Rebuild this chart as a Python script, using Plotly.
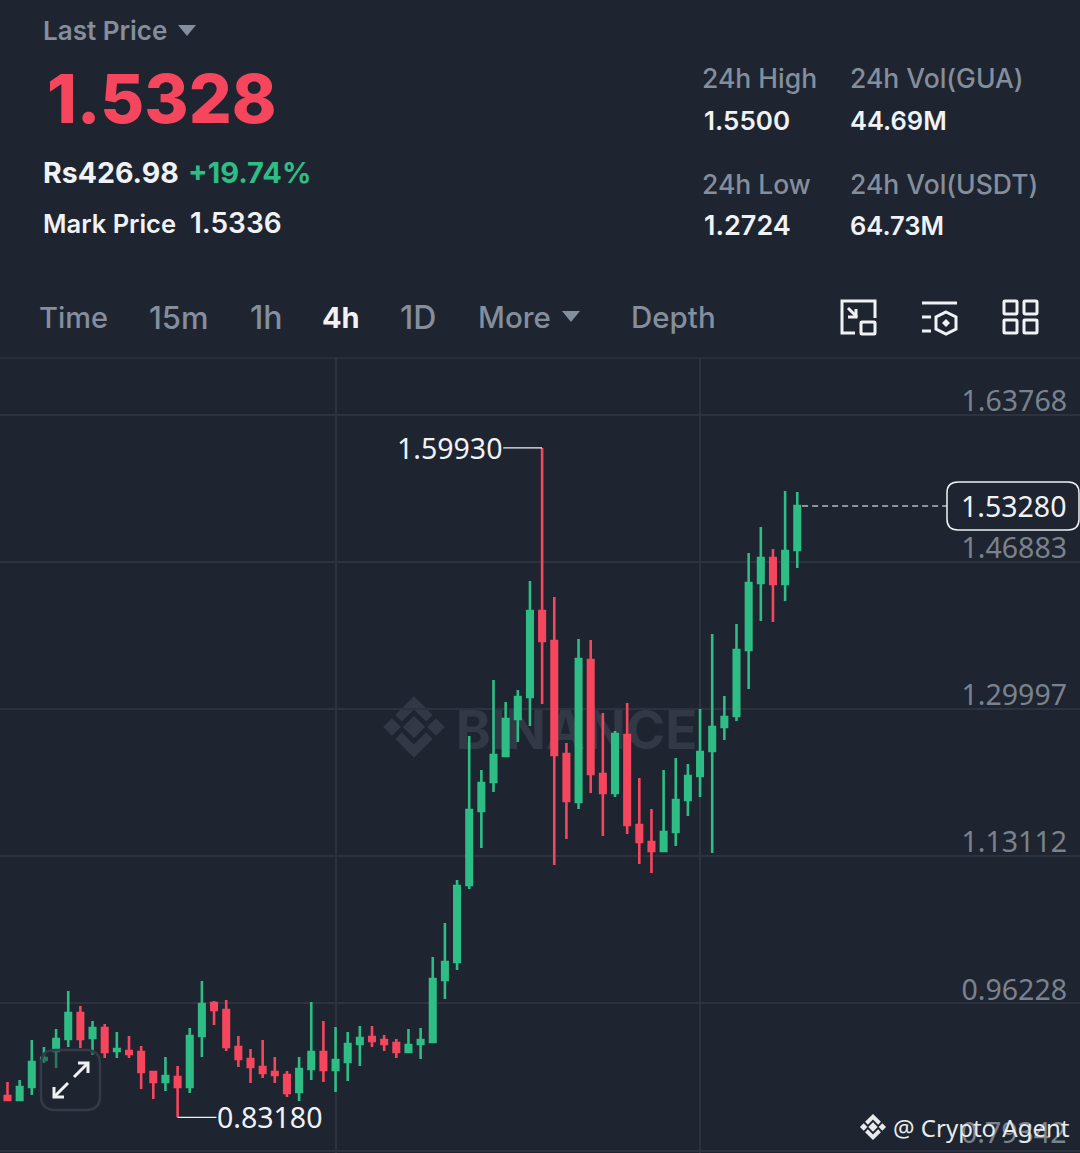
import plotly.graph_objects as go

W = 1080
H = 1153
BG = "#1e2530"
GREEN = "#2ebd85"
RED = "#f6465d"
GRAY = "#848e9c"
AXIS_GRAY = "#7a828e"
GRID = "#2d333e"
WHITE = "#f0f2f5"

# 4h candles
opens = [0.8562, 0.8516, 0.8665, 0.8975, 0.9078, 0.9216, 0.9514, 0.9227, 0.9342, 0.9078, 0.9078,
         0.9067, 0.8837, 0.8723, 0.8780, 0.8665, 0.9250, 0.9628, 0.9548, 0.9124, 0.8986, 0.8895,
         0.8837, 0.8803, 0.8608, 0.8872, 0.9067, 0.8860, 0.8952, 0.9158, 0.9239, 0.9204, 0.9170,
         0.9067, 0.9158, 0.9181, 0.9892, 1.0099, 1.0982, 1.1830, 1.2163, 1.2461, 1.2885, 1.3137,
         1.4124, 1.3780, 1.2484, 1.1933, 1.3562, 1.2254, 1.2037, 1.2701, 1.1670, 1.1475, 1.1371,
         1.1589, 1.1956, 1.2232, 1.2518, 1.2793, 1.2919, 1.3676, 1.4445, 1.4731, 1.4433, 1.4823]
highs = [0.8723, 0.8746, 0.9204, 0.9124, 0.9330, 0.9766, 0.9594, 0.9422, 0.9388, 0.9296, 0.9250,
         0.9135, 0.8849, 0.9009, 0.8906, 0.9342, 0.9881, 0.9651, 0.9663, 0.9250, 0.9101, 0.9204,
         0.9009, 0.8849, 0.9009, 0.9640, 0.9422, 0.9353, 0.9296, 0.9365, 0.9365, 0.9262, 0.9216,
         0.9330, 0.9342, 1.0156, 1.0546, 1.1039, 1.2690, 1.2300, 1.3332, 1.3080, 1.3218, 1.4468,
         1.5993, 1.4284, 1.2610, 1.3803, 1.3791, 1.2954, 1.2747, 1.3069, 1.2209, 1.1853, 1.2300,
         1.2438, 1.2369, 1.2999, 1.3860, 1.3149, 1.3974, 1.4789, 1.5087, 1.4835, 1.5500, 1.5488]
lows = [0.8505, 0.8505, 0.8574, 0.8941, 0.8883, 0.9124, 0.9113, 0.9032, 0.8998, 0.8998, 0.8998,
        0.8642, 0.8528, 0.8619, 0.8318, 0.8596, 0.9009, 0.9376, 0.9078, 0.8895, 0.8711, 0.8768,
        0.8711, 0.8551, 0.8505, 0.8746, 0.8723, 0.8608, 0.8734, 0.8906, 0.9124, 0.9078, 0.8998,
        0.9055, 0.8986, 0.9170, 0.9674, 1.0007, 1.0936, 1.1406, 1.2048, 1.2449, 1.2621, 1.2805,
        1.3057, 1.1211, 1.1509, 1.1853, 1.2037, 1.1544, 1.1991, 1.1566, 1.1222, 1.1119, 1.1371,
        1.1429, 1.1773, 1.1991, 1.1349, 1.2644, 1.2862, 1.3229, 1.4009, 1.3997, 1.4238, 1.4617]
closes = [0.8516, 0.8665, 0.8952, 0.8998, 0.9216, 0.9514, 0.9216, 0.9342, 0.9067, 0.9101, 0.9044,
          0.8837, 0.8723, 0.8791, 0.8665, 0.9250, 0.9617, 0.9548, 0.9124, 0.8986, 0.8895, 0.8826,
          0.8803, 0.8596, 0.8872, 0.9067, 0.8860, 0.8975, 0.9158, 0.9227, 0.9193, 0.9158, 0.9067,
          0.9147, 0.9204, 0.9904, 1.0099, 1.0970, 1.1842, 1.2151, 1.2472, 1.2885, 1.3137, 1.4124,
          1.3780, 1.2472, 1.1945, 1.3573, 1.2254, 1.2037, 1.2713, 1.1670, 1.1475, 1.1371, 1.1589,
          1.1956, 1.2232, 1.2507, 1.2793, 1.2908, 1.3676, 1.4445, 1.4731, 1.4433, 1.4812, 1.5328]
candle_x = list(range(len(opens)))

axis_ticks = [0.79342, 0.96228, 1.13112, 1.29997, 1.46883, 1.63768]
axis_labels = ["0.79342", "0.96228", "1.13112", "1.29997", "1.46883", "1.63768"]
vgrid = [27, 57]

last_price = 1.5328
peak_x, peak_price = 44, 1.5993
dip_x, dip_price = 14, 0.8318


def px(x, y):
    return x / W, 1 - y / H


annotations = []
shapes = []


def text(x, y, s, size, color, weight=500, family="Inter", anchor="left"):
    a, b = px(x, y)
    annotations.append(dict(x=a, y=b, xref="paper", yref="paper", text=s, showarrow=False,
                            xanchor=anchor, yanchor="middle", borderpad=0,
                            font=dict(family=family, size=size, color=color, weight=weight)))


def path(points, color=WHITE, width=3, fill=None, close=False, layer="above"):
    coords = [px(*p) for p in points]
    d = "M" + " L".join(f"{a:.5f},{b:.5f}" for a, b in coords)
    if close:
        d += " Z"
    shapes.append(dict(type="path", path=d, xref="paper", yref="paper", layer=layer,
                       line=dict(color=color, width=width), fillcolor=fill))


def rounded(x0, y0, x1, y1, r, color, width, fill):
    a0, b0 = px(x0, y0)
    a1, b1 = px(x1, y1)
    rx = r / W
    ry = r / H
    d = (f"M{a0 + rx:.5f},{b0:.5f} L{a1 - rx:.5f},{b0:.5f} Q{a1:.5f},{b0:.5f} {a1:.5f},{b0 - ry:.5f} "
         f"L{a1:.5f},{b1 + ry:.5f} Q{a1:.5f},{b1:.5f} {a1 - rx:.5f},{b1:.5f} "
         f"L{a0 + rx:.5f},{b1:.5f} Q{a0:.5f},{b1:.5f} {a0:.5f},{b1 + ry:.5f} "
         f"L{a0:.5f},{b0 - ry:.5f} Q{a0:.5f},{b0:.5f} {a0 + rx:.5f},{b0:.5f} Z")
    shapes.append(dict(type="path", path=d, xref="paper", yref="paper", layer="above",
                       line=dict(color=color, width=width), fillcolor=fill))


def logo(cx, cy, r, color, layer):
    # binance mark, four corners and a centre diamond
    s = r / 6
    path([(cx, cy - 2 * s), (cx + 2 * s, cy), (cx, cy + 2 * s), (cx - 2 * s, cy)], color, 0, color, True, layer)
    path([(cx - 3.4 * s, cy - 2.2 * s), (cx, cy - 5.6 * s), (cx + 3.4 * s, cy - 2.2 * s),
          (cx + 2.2 * s, cy - 1 * s), (cx, cy - 3.2 * s), (cx - 2.2 * s, cy - 1 * s)],
         color, 0, color, True, layer)
    path([(cx - 3.4 * s, cy + 2.2 * s), (cx, cy + 5.6 * s), (cx + 3.4 * s, cy + 2.2 * s),
          (cx + 2.2 * s, cy + 1 * s), (cx, cy + 3.2 * s), (cx - 2.2 * s, cy + 1 * s)],
         color, 0, color, True, layer)
    path([(cx - 5.6 * s, cy), (cx - 4 * s, cy - 1.6 * s), (cx - 2.4 * s, cy), (cx - 4 * s, cy + 1.6 * s)],
         color, 0, color, True, layer)
    path([(cx + 5.6 * s, cy), (cx + 4 * s, cy - 1.6 * s), (cx + 2.4 * s, cy), (cx + 4 * s, cy + 1.6 * s)],
         color, 0, color, True, layer)


# header
text(42, 31, "Last Price", 26, GRAY, 600)
path([(178, 25), (196, 25), (187, 36)], GRAY, 0, GRAY, True)
text(45.5, 98, "1.5328", 67.5, RED, 800)
text(42, 172, "Rs426.98", 28.5, WHITE, 700)
text(187, 172, "+19.74%", 29, GREEN, 700)
text(42, 223, "Mark Price", 25.5, WHITE, 600)
text(189, 223, "1.5336", 28, WHITE, 600)

text(701, 78.5, "24h High", 26.5, GRAY)
text(703, 121, "1.5500", 26, WHITE, 600)
text(849, 78.5, "24h Vol(GUA)", 26.5, GRAY)
text(849, 121, "44.69M", 25.5, WHITE, 600)
text(701, 183.5, "24h Low", 26.5, GRAY)
text(703, 226, "1.2724", 27, WHITE, 600)
text(849, 183.5, "24h Vol(USDT)", 26.5, GRAY)
text(849, 226, "64.73M", 25.5, WHITE, 600)

# interval tabs
text(38, 317.5, "Time", 29, GRAY)
text(148, 317.5, "15m", 31, GRAY)
text(249, 317.5, "1h", 32, GRAY)
text(321, 317.5, "4h", 29, WHITE, 700)
text(399, 317.5, "1D", 32, GRAY)
text(477, 317.5, "More", 29.5, GRAY)
path([(562, 311), (580, 311), (571, 322)], GRAY, 0, GRAY, True)
text(630, 317.5, "Depth", 29.5, GRAY)

# toolbar icons
path([(855, 333), (842, 333), (842, 301), (875, 301), (875, 318)])
path([(848, 308), (857, 317)])
path([(856, 309), (856, 317), (848, 317)])
rounded(861, 322, 875, 334, 1, WHITE, 3, None)
path([(922, 303), (957, 303)])
path([(922, 317), (931, 317)])
path([(922, 331), (931, 331)])
path([(946, 312), (956, 317), (956, 329), (946, 334), (936, 329), (936, 317)], close=True)
path([(946, 319), (950, 323), (946, 327), (942, 323)], WHITE, 0, WHITE, True)
for x0, y0 in [(1004, 301), (1024, 301), (1004, 320), (1024, 320)]:
    rounded(x0, y0, x0 + 13, y0 + 13, 1, WHITE, 3, None)

# chart frame and watermark
a0, b0 = px(0, 358)
a1, _ = px(W, 358)
shapes.append(dict(type="line", xref="paper", yref="paper", x0=a0, x1=a1, y0=b0, y1=b0,
                   line=dict(color=GRID, width=1.5), layer="below"))
logo(414, 727, 33, "#323946", "below")
wa0, wb0 = px(440, 700)
wa1, wb1 = px(713, 755)
shapes.append(dict(type="rect", xref="paper", yref="paper", x0=wa0, x1=wa1, y0=wb0, y1=wb1,
                   layer="below", line=dict(width=0), fillcolor="rgba(0,0,0,0)",
                   label=dict(text="<b>BINANCE</b>", textposition="middle center",
                              font=dict(family="Inter", size=53, color="#323946"))))

# extreme price callouts
shapes.append(dict(type="line", xref="x", yref="y", x0=peak_x - 3.2, x1=peak_x, y0=peak_price, y1=peak_price,
                   line=dict(color=WHITE, width=1.2), layer="above"))
shapes.append(dict(type="line", xref="x", yref="y", x0=dip_x, x1=dip_x + 3.2, y0=dip_price, y1=dip_price,
                   line=dict(color=WHITE, width=1.2), layer="above"))
annotations.append(dict(x=peak_x - 3.2, y=peak_price, xref="x", yref="y", text="1.59930", showarrow=False,
                        xanchor="right", yanchor="middle", borderpad=0,
                        font=dict(family="Noto Sans", size=28.5, color=WHITE)))
annotations.append(dict(x=dip_x + 3.2, y=dip_price, xref="x", yref="y", text="0.83180", showarrow=False,
                        xanchor="left", yanchor="middle", borderpad=0,
                        font=dict(family="Noto Sans", size=28.5, color=WHITE)))

# last price line and pill
shapes.append(dict(type="line", xref="x", yref="y", x0=65.4, x1=77.3, y0=last_price, y1=last_price,
                   line=dict(color="#b4b9c0", width=1.5, dash="6px,4px"), layer="above"))
rounded(947, 482, 1079, 530, 11, WHITE, 1.5, BG)
text(1067, 506, "1.53280", 28.5, WHITE, 400, "Noto Sans", "right")

# expand button
rounded(41, 1050, 100, 1110, 14, "#343b47", 2.5, "rgba(30,37,48,0.45)")
path([(54, 1097), (68, 1083)], WHITE, 3)
path([(54, 1087), (54, 1097), (64, 1097)], WHITE, 3)
path([(74, 1077), (88, 1063)], WHITE, 3)
path([(78, 1063), (88, 1063), (88, 1073)], WHITE, 3)

# plotly drops the lowest inside label, so it goes in by hand under the credit
text(1067, 1132, axis_labels[0], 28.5, AXIS_GRAY, 400, "Noto Sans", "right")

# corner credit
logo(873, 1127, 14, "#e8eaed", "above")
text(892, 1127, "@ Crypto Agent", 24, "#e8eaed", 400, "Noto Sans")

fig = go.Figure(go.Candlestick(
    x=candle_x, open=opens, high=highs, low=lows, close=closes,
    increasing=dict(line=dict(color=GREEN, width=2.6), fillcolor=GREEN),
    decreasing=dict(line=dict(color=RED, width=2.6), fillcolor=RED),
    whiskerwidth=0, hoverinfo="skip",
))
fig.update_layout(
    width=W, height=H, margin=dict(l=0, r=0, t=0, b=0),
    paper_bgcolor=BG, plot_bgcolor="rgba(0,0,0,0)",
    showlegend=False, boxgap=0.36, annotations=annotations, shapes=shapes,
    xaxis=dict(range=[-0.617, 88.27], domain=[0, 1], rangeslider=dict(visible=False),
               tickmode="array", tickvals=vgrid, showticklabels=False, ticks="",
               showgrid=True, gridcolor=GRID, gridwidth=1.5, zeroline=False),
    yaxis=dict(range=[0.79084, 1.70247], domain=[0, (H - 358) / H], side="right",
               tickmode="array", tickvals=axis_ticks, ticktext=axis_labels,
               ticklabelposition="inside top", ticklabelstandoff=10, ticklabelshift=6, ticks="",
               tickfont=dict(family="Noto Sans", size=28.5, color=AXIS_GRAY),
               showgrid=True, gridcolor=GRID, gridwidth=1.5, zeroline=False),
)
fig.write_html("out.html", config={"displayModeBar": False},
               post_script="document.body.style.margin='0';document.body.style.background='#1e2530';")
